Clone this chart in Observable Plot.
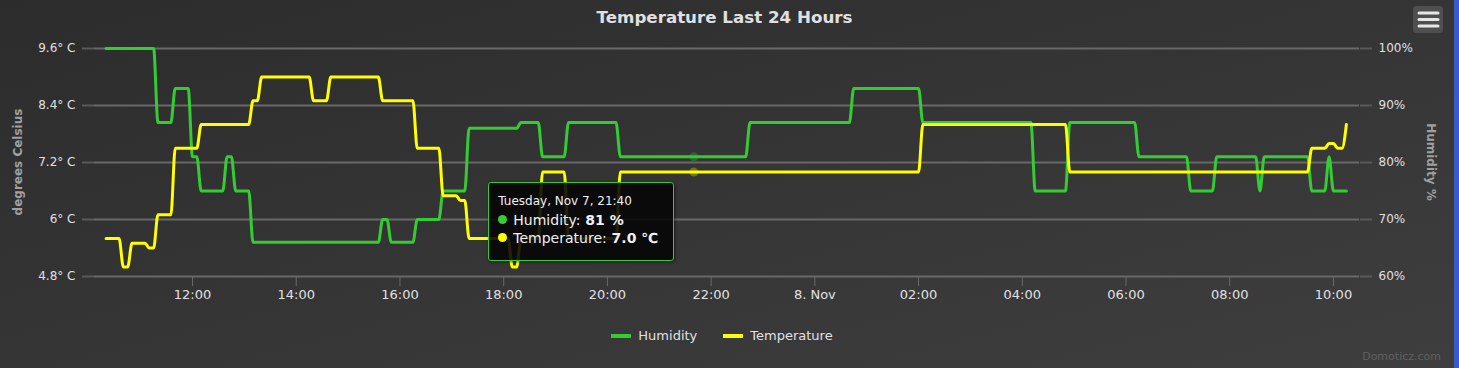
<!DOCTYPE html>
<html><head><meta charset="utf-8">
<script src="https://cdn.jsdelivr.net/npm/d3@7"></script>
<script src="https://cdn.jsdelivr.net/npm/@observablehq/plot@0.6"></script>
<style>
html,body{margin:0;padding:0;background:#333;}
#root{position:relative;width:1459px;height:368px;overflow:hidden;
  background:linear-gradient(to bottom right,#2c2c2c,#3e3e3e);
  font-family:"DejaVu Sans",sans-serif;color:#e0e0e3;}
#title{position:absolute;left:0;top:0;width:1449px;height:34px;line-height:34px;text-align:center;
  font-size:16.7px;font-weight:bold;color:#e0e0e3;}
#chart{position:absolute;left:0;top:35px;}
.axt{position:absolute;font-size:12px;font-weight:bold;color:#a0a0a0;white-space:nowrap;}
#legend{position:absolute;left:0;top:327px;width:1444px;display:flex;justify-content:center;font-size:13px;color:#e0e0e3;line-height:18px;}
.li{display:flex;align-items:center;margin:0 13px;}
.sym{display:inline-block;width:20px;height:4px;margin-right:7px;}
#credits{position:absolute;right:18px;top:350px;font-size:11px;color:#606060;}
#strip{position:absolute;left:1454px;top:0;width:5px;height:368px;background:#3a59cf;}
#tip{position:absolute;width:184px;height:77px;background:rgba(5,5,5,0.88);border:1px solid #33cc33;border-radius:3px;
  box-shadow:1px 1px 3px rgba(0,0,0,0.5);box-sizing:content-box;}
#tip .h{position:absolute;left:9px;top:11px;font-size:12px;color:#f0f0f0;white-space:nowrap;}
#tip .r{position:absolute;left:9px;font-size:14px;color:#f0f0f0;white-space:nowrap;display:flex;align-items:center;}
#tip .d{display:inline-block;width:9px;height:9px;border-radius:50%;margin-right:6px;}
</style></head><body>
<div id="root">
  <div id="title">Temperature Last 24 Hours</div>
  <div id="chart"></div>
  <div class="axt" id="ylt">degrees Celsius</div>
  <div class="axt" id="yrt">Humidity %</div>
  <div id="legend"></div>
  <div id="credits">Domoticz.com</div>
  <svg id="menu" width="32" height="30" style="position:absolute;left:1412px;top:5px">
    <rect x="1" y="1" width="30" height="27" rx="3" fill="#4f4f4f"/>
    <g stroke="#e6e6e6" stroke-width="3" stroke-linecap="round">
      <line x1="7" x2="26" y1="8" y2="8"/><line x1="7" x2="26" y1="14.5" y2="14.5"/><line x1="7" x2="26" y1="21" y2="21"/>
    </g>
  </svg>
  <div id="strip"></div>
</div>
<script>
// ---- data ----
const humidityTime = ["07T10:20","07T11:15","07T11:20","07T11:35","07T11:40","07T11:55","07T12:00","07T12:05","07T12:10","07T12:35","07T12:40","07T12:45","07T12:50","07T13:05","07T13:10","07T15:35","07T15:40","07T15:45","07T15:50","07T16:15","07T16:20","07T16:45","07T16:50","07T17:15","07T17:20","07T18:15","07T18:20","07T18:40","07T18:45","07T19:10","07T19:15","07T20:10","07T20:15","07T22:40","07T22:45","08T00:40","08T00:45","08T02:00","08T02:05","08T04:10","08T04:15","08T04:50","08T04:55","08T06:10","08T06:15","08T07:10","08T07:15","08T07:40","08T07:45","08T08:30","08T08:35","08T08:40","08T09:30","08T09:35","08T09:50","08T09:55","08T10:00","08T10:15"];
const humidityValue = [100,100,87,87,93,93,81,81,75,75,81,81,75,75,66,66,70,70,66,66,70,70,75,75,86,86,87,87,81,81,87,87,81,81,87,87,93,93,87,87,75,75,87,87,81,81,75,75,81,81,75,81,81,75,75,81,75,75];
const temperatureTime = ["07T10:20","07T10:35","07T10:40","07T10:45","07T10:50","07T11:05","07T11:10","07T11:15","07T11:20","07T11:35","07T11:40","07T12:05","07T12:10","07T13:05","07T13:10","07T13:15","07T13:20","07T14:15","07T14:20","07T14:35","07T14:40","07T15:35","07T15:40","07T16:15","07T16:20","07T16:45","07T16:50","07T17:05","07T17:10","07T17:15","07T17:20","07T18:05","07T18:10","07T18:15","07T18:20","07T18:40","07T18:45","07T19:10","07T19:15","07T20:10","07T20:15","08T02:00","08T02:05","08T04:50","08T04:55","08T09:30","08T09:35","08T09:50","08T09:55","08T10:00","08T10:05","08T10:10","08T10:15"];
const temperatureValue = [5.6,5.6,5.0,5.0,5.5,5.5,5.4,5.4,6.1,6.1,7.5,7.5,8.0,8.0,8.5,8.5,9.0,9.0,8.5,8.5,9.0,9.0,8.5,8.5,7.5,7.5,6.5,6.5,6.4,6.4,5.6,5.6,5.0,5.0,5.6,5.6,7.0,7.0,5.6,5.6,7.0,7.0,8.0,8.0,7.0,7.0,7.5,7.5,7.6,7.6,7.5,7.5,8.0];
const temperatureTicks = [4.8, 6, 7.2, 8.4, 9.6];
const humidityTicks = [60, 70, 80, 90, 100];
const timeTicks = ["07T12:00","07T14:00","07T16:00","07T18:00","07T20:00","07T22:00","08T00:00","08T02:00","08T04:00","08T06:00","08T08:00","08T10:00"];
const timeDomain = ["07T10:06:36","08T10:30:10"];
const hoverTime = "07T21:40";
const hoverHumidity = 81;
const hoverTemperature = 7.0;
const seriesNames = ["Humidity", "Temperature"];
const seriesColors = ["#33cc33", "#ffff00"];

// ---- helpers ----
const parse = s => new Date("2017-11-" + s);
const tMin = temperatureTicks[0], tMax = temperatureTicks[temperatureTicks.length - 1];
const hMin = humidityTicks[0], hMax = humidityTicks[humidityTicks.length - 1];
const hToT = h => tMin + (h - hMin) * (tMax - tMin) / (hMax - hMin);
const tToH = t => hMin + (t - tMin) * (hMax - hMin) / (tMax - tMin);

const humidity = humidityTime.map((s, i) => ({time: parse(s), value: humidityValue[i]}));
const temperature = temperatureTime.map((s, i) => ({time: parse(s), value: temperatureValue[i]}));
const hover = [
  {time: parse(hoverTime), y: hToT(hoverHumidity), c: seriesColors[0]},
  {time: parse(hoverTime), y: hoverTemperature, c: seriesColors[1]}
];
const fmtHM = d3.timeFormat("%H:%M");
const xFmt = d => d.getHours() === 0 && d.getMinutes() === 0 ? `${d.getDate()}. Nov` : fmtHM(d);

const chart = Plot.plot({
  width: 1459, height: 275,
  marginLeft: 94, marginRight: 100, marginTop: 13, marginBottom: 34,
  style: {background: "transparent", color: "#e0e0e3", fontFamily: "DejaVu Sans", fontSize: "12px", overflow: "visible"},
  x: {type: "time", domain: timeDomain.map(parse)},
  y: {domain: [tMin, tMax]},
  marks: [
    Plot.ruleY(temperatureTicks, {stroke: "#686868", strokeWidth: 2}),
    Plot.axisY(temperatureTicks, {anchor: "left", tickSize: 12, tickPadding: 7, stroke: "#595959", strokeWidth: 2, fill: "#e0e0e3", tickFormat: d => `${d}° C`, label: null}),
    Plot.axisY(temperatureTicks, {anchor: "right", tickSize: 12, tickPadding: 7, stroke: "#595959", strokeWidth: 2, fill: "#e0e0e3", tickFormat: d => `${Math.round(tToH(d))}%`, label: null}),
    Plot.axisX(timeTicks.map(parse), {anchor: "bottom", tickSize: 10, tickPadding: 3, stroke: "#6a6a6a", fill: "#e0e0e3", fontSize: 13, tickFormat: xFmt, label: null}),
    Plot.line(humidity, {x: "time", y: d => hToT(d.value), stroke: seriesColors[0], strokeWidth: 3, curve: "monotone-x"}),
    Plot.line(temperature, {x: "time", y: "value", stroke: seriesColors[1], strokeWidth: 3, curve: "monotone-x"}),
    Plot.dot(hover, {x: "time", y: "y", r: 4.5, fill: "c", fillOpacity: 0.3, stroke: null})
  ]
});
document.getElementById("chart").appendChild(chart);

// axis titles
const ys = chart.scale("y"), xs = chart.scale("x");
const midY = 35 + (ys.apply(tMin) + ys.apply(tMax)) / 2;
const ylt = document.getElementById("ylt");
ylt.style.left = "18px"; ylt.style.top = midY + "px";
ylt.style.transform = "translate(-50%,-50%) rotate(-90deg)";
const yrt = document.getElementById("yrt");
yrt.style.left = "1431px"; yrt.style.top = midY + "px";
yrt.style.transform = "translate(-50%,-50%) rotate(90deg)";

// legend
const legend = document.getElementById("legend");
seriesNames.forEach((n, i) => {
  const it = document.createElement("div"); it.className = "li";
  it.innerHTML = `<span class="sym" style="background:${seriesColors[i]}"></span><span>${n}</span>`;
  legend.appendChild(it);
});

// tooltip
const tip = document.createElement("div"); tip.id = "tip";
const hx = xs.apply(parse(hoverTime));
tip.style.left = (hx - 205) + "px";
tip.style.top = (35 + ys.apply(hoverTemperature) + 10) + "px";
tip.innerHTML = `<div class="h">Tuesday, Nov 7, ${hoverTime.slice(3)}</div>
<div class="r" style="top:29px"><span class="d" style="background:${seriesColors[0]}"></span>${seriesNames[0]}: <b>&nbsp;${hoverHumidity} %</b></div>
<div class="r" style="top:47px"><span class="d" style="background:${seriesColors[1]}"></span>${seriesNames[1]}: <b>&nbsp;${hoverTemperature.toFixed(1)} ℃</b></div>`;
document.getElementById("root").appendChild(tip);
</script>
</body></html>
